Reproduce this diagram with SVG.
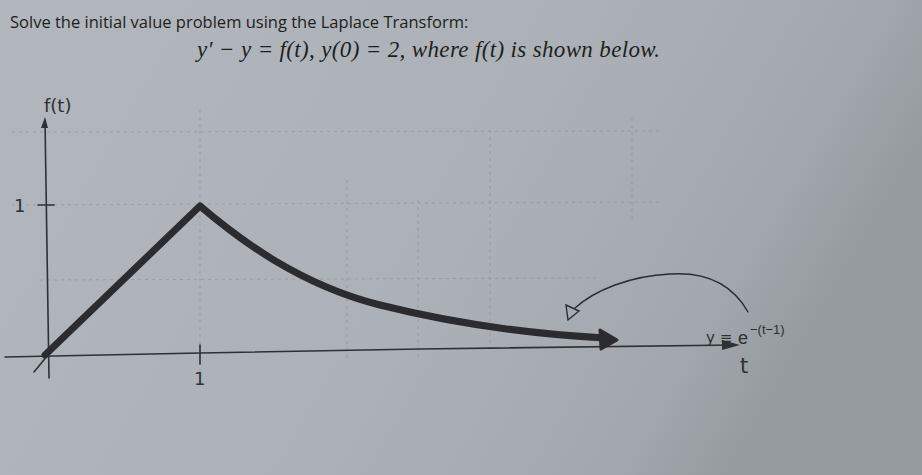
<svg xmlns="http://www.w3.org/2000/svg" width="922" height="475" viewBox="0 0 922 475">
<defs>
<linearGradient id="bg" x1="0" y1="0" x2="1" y2="0.3">
<stop offset="0" stop-color="#b1b7bc"/>
<stop offset="0.6" stop-color="#abb1b6"/>
<stop offset="0.88" stop-color="#a2a8ad"/>
<stop offset="1" stop-color="#959b9f"/>
</linearGradient>
<style>
.grid{stroke:#8c9298;stroke-width:0.8;stroke-dasharray:3 4;fill:none;opacity:0.8}
.ax{stroke:#2e3134;stroke-width:1.6;fill:none;stroke-linecap:round}
.pen{stroke:#2a2d30;stroke-width:1.4;fill:none;stroke-linecap:round}
.hand{font-family:"DejaVu Sans",sans-serif;fill:#2e3134}
</style>
</defs>
<rect width="922" height="475" fill="url(#bg)"/>
<text x="10" y="28" font-family="Open Sans, Liberation Sans, sans-serif" font-size="16.5" fill="#1e1f21">Solve the initial value problem using the Laplace Transform:</text>
<text x="197" y="57" font-family="Liberation Serif, serif" font-size="23" font-style="italic" fill="#1e1f21" textLength="463" lengthAdjust="spacing">y′ − y = f(t), y(0) = 2, where f(t) is shown below.</text>
<g id="grid">
<line class="grid" x1="12" y1="132" x2="663" y2="131"/>
<line class="grid" x1="12" y1="205" x2="663" y2="202"/>
<line class="grid" x1="40" y1="280" x2="600" y2="278"/>
<line class="grid" x1="200" y1="110" x2="200" y2="372"/>
<line class="grid" x1="347" y1="180" x2="347" y2="362"/>
<line class="grid" x1="418" y1="200" x2="418" y2="360"/>
<line class="grid" x1="490" y1="130" x2="490" y2="345"/>
<line class="grid" x1="632" y1="118" x2="632" y2="220"/>
</g>
<g id="axes">
<line class="ax" x1="45" y1="120" x2="49" y2="378"/>
<path d="M41,128 L45,117 L48,128 Z" fill="#2e3134"/>
<path class="ax" d="M5,357 L200,353 L420,349 L735,345"/>
<path d="M722,340 L740,345 L722,350 Z" fill="#2e3134"/>
<line class="ax" x1="38" y1="205" x2="54" y2="205"/>
<line class="ax" x1="200" y1="345" x2="200" y2="364"/>
<line class="ax" x1="34" y1="372" x2="48" y2="355"/>
</g>
<g id="labels">
<text class="hand" x="44" y="112" font-size="18">f(t)</text>
<text class="hand" x="14" y="212" font-size="18">1</text>
<text class="hand" x="194" y="385" font-size="18">1</text>
<text class="hand" x="740" y="373" font-size="21">t</text>
<text class="hand" x="706" y="343" font-size="15">y ≡</text>
<text x="738" y="344" font-family="Liberation Sans, sans-serif" font-size="18" fill="#2e3134">e</text>
<text x="750" y="334" font-family="Liberation Sans, sans-serif" font-size="13" fill="#2e3134">−(t−1)</text>
</g>
<g id="curve">
<path d="M45,355 L200,206 C240,240 300,285 380,305 C460,325 530,334 605,338" fill="none" stroke="#2a2c2f" stroke-width="7" stroke-linejoin="round" stroke-linecap="round"/>
<path d="M600,330 L617,340 L601,349 Z" fill="#2a2c2f" stroke="#2a2c2f" stroke-width="3" stroke-linejoin="round"/>
</g>
<g id="connectors">
<path class="pen" d="M748,312 C730,280 700,272 670,274 C630,276 595,290 575,308"/>
<path class="pen" d="M566,305 L568,320 L579,311 Z"/>
</g>
</svg>
